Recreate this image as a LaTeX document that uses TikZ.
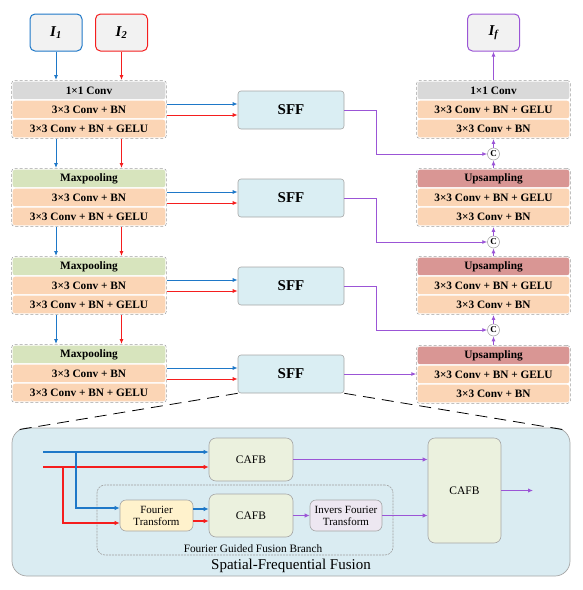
\documentclass[tikz,border=0pt]{standalone}
\usepackage{fontspec}
\setmainfont{Liberation Serif}
\usetikzlibrary{arrows.meta,calc,fit}
\definecolor{cblue}{HTML}{1E78C8}
\definecolor{cred}{HTML}{F51E1E}
\definecolor{cpur}{HTML}{9B55D6}
\definecolor{hgray}{HTML}{D9D9D9}
\definecolor{peach}{HTML}{FBD5B5}
\definecolor{mgreen}{HTML}{D7E4BD}
\definecolor{upred}{HTML}{D99694}
\definecolor{sffblue}{HTML}{DAEEF3}
\definecolor{cafbg}{HTML}{EBF1DE}
\definecolor{ftyel}{HTML}{FFF2CC}
\definecolor{iftl}{HTML}{EDE7F1}
\definecolor{inbg}{HTML}{F2F2F2}
\definecolor{panelbg}{HTML}{DAECF2}
\begin{document}
\begin{tikzpicture}[x=1pt,y=-1pt,
  rowbox/.style={minimum width=154pt, minimum height=19pt, inner sep=0pt, draw=white, line width=1.4pt, rounded corners=2.5pt, font=\bfseries\fontsize{11.3}{12}\selectfont},
  frame/.style={draw=gray!75, densely dashed, line width=0.5pt, rounded corners=4pt, inner sep=0pt},
  inbox/.style={minimum width=52pt, minimum height=37pt, rounded corners=5pt, fill=inbg, line width=1pt, font=\bfseries\itshape\fontsize{15}{16}\selectfont},
  sffbox/.style={minimum width=106pt, minimum height=38pt, rounded corners=3pt, fill=sffblue, draw=gray!70, line width=0.6pt, font=\bfseries\fontsize{15}{16}\selectfont},
  cnode/.style={circle, draw=gray!80, fill=white, minimum size=12pt, inner sep=0pt, line width=0.5pt, font=\bfseries\fontsize{9}{9}\selectfont},
  ar/.style={-{Latex[length=5pt,width=4pt]}, line width=0.9pt},
  arb/.style={ar, draw=cblue},
  arr/.style={ar, draw=cred},
  arp/.style={ar, draw=cpur},
  car/.style={-{Latex[length=5pt,width=4.5pt]}, line width=1.2pt},
  cafb/.style={fill=cafbg, draw=gray!70, line width=0.6pt, rounded corners=7pt, font=\fontsize{11.5}{12}\selectfont},
  smallbox/.style={minimum width=73pt, minimum height=31pt, inner sep=1pt, align=center, draw=gray!70, line width=0.6pt, rounded corners=6pt, font=\fontsize{11}{12}\selectfont},
  bigdash/.style={draw=black, line width=0.8pt, dash pattern=on 12pt off 7pt}
]
\useasboundingbox (0,0) rectangle (582,590);

% inputs
\node[inbox, draw=cblue] (I1) at (56,32.5) {I\textsubscript{1}};
\node[inbox, draw=cred] (I2) at (121.5,32.5) {I\textsubscript{2}};
\node[inbox, draw=cpur] (If) at (493.5,32.5) {I\textsubscript{\textit{f}}};

% left encoder blocks
\foreach \i/\T/\h/\hc in {1/81/{1×1 Conv}/hgray, 2/169/Maxpooling/mgreen, 3/257/Maxpooling/mgreen, 4/345/Maxpooling/mgreen}{
  \node[rowbox, fill=\hc] (L\i r1) at (89,\T+9.5) {\h};
  \node[rowbox, fill=peach] (L\i r2) at (89,\T+28.5) {3×3 Conv + BN};
  \node[rowbox, fill=peach] (L\i r3) at (89,\T+47.5) {3×3 Conv + BN + GELU};
  \node[frame, fit=(L\i r1)(L\i r3)] (L\i) {};
  \node[sffbox] (S\i) at (291,\T+29) {SFF};
  \coordinate (b\i) at ($(L\i r2.east)+(0,-5.5)$);
  \coordinate (r\i) at ($(L\i r2.east)+(0,5.5)$);
  \draw[arb] (b\i) -- (b\i -| S\i.west);
  \draw[arr] (r\i) -- (r\i -| S\i.west);
}

% right decoder blocks
\node[rowbox, fill=hgray, minimum width=153pt] (R1r1) at (493.5,90.5) {1×1 Conv};
\node[rowbox, fill=peach, minimum width=153pt] (R1r2) at (493.5,109.5) {3×3 Conv + BN + GELU};
\node[rowbox, fill=peach, minimum width=153pt] (R1r3) at (493.5,128.5) {3×3 Conv + BN};
\node[frame, fit=(R1r1)(R1r3)] (R1) {};
\foreach \i/\T in {2/169, 3/257, 4/346}{
  \node[rowbox, fill=upred, minimum width=153pt] (R\i r1) at (493.5,\T+9.5) {Upsampling};
  \node[rowbox, fill=peach, minimum width=153pt] (R\i r2) at (493.5,\T+28.5) {3×3 Conv + BN + GELU};
  \node[rowbox, fill=peach, minimum width=153pt] (R\i r3) at (493.5,\T+47.5) {3×3 Conv + BN};
  \node[frame, fit=(R\i r1)(R\i r3)] (R\i) {};
}
\node[cnode] (C1) at (493.5,154) {C};
\node[cnode] (C2) at (493.5,242) {C};
\node[cnode] (C3) at (493.5,330) {C};

% vertical arrows left
\draw[arb] (I1.south) -- (L1.north -| I1);
\draw[arr] (I2.south) -- (L1.north -| I2);
\foreach \a/\b in {1/2, 2/3, 3/4}{
  \draw[arb] (L\a.south -| I1) -- (L\b.north -| I1);
  \draw[arr] (L\a.south -| I2) -- (L\b.north -| I2);
}

% purple connections
\draw[arp] (S1.east) -- ++(32,0) |- (C1.west);
\draw[arp] (S2.east) -- ++(32,0) |- (C2.west);
\draw[arp] (S3.east) -- ++(32,0) |- (C3.west);
\draw[arp] (S4.east) -- (S4.east -| R4r2.west);
\draw[arp] (R4.north) -- (C3.south);
\draw[arp] (C3.north) -- (R3.south);
\draw[arp] (R3.north) -- (C2.south);
\draw[arp] (C2.north) -- (R2.south);
\draw[arp] (R2.north) -- (C1.south);
\draw[arp] (C1.north) -- (R1.south);
\draw[arp] (R1.north) -- (If.south);

% bottom panel
\node[draw=gray!70, fill=panelbg, line width=0.7pt, rounded corners=15pt, minimum width=558pt, minimum height=148pt] (P) at (291,502) {};
\node[font=\fontsize{15}{16}\selectfont] (Ptitle) at (291,566) {Spatial-Frequential Fusion};
\draw[bigdash] (S4.south west) -- ($(P.north west)+(4,2.5)$);
\draw[bigdash] (S4.south east) -- ($(P.north east)+(-4,2.5)$);

\node[draw=gray!75, dash pattern=on 2pt off 1pt, line width=0.6pt, rounded corners=8pt, minimum width=296pt, minimum height=70pt] (FG) at (245,520) {};
\node[font=\fontsize{11.3}{12}\selectfont] (FGt) at (253,548.5) {Fourier Guided Fusion Branch};

\node[cafb, minimum width=84pt, minimum height=43pt] (CA1) at (251,459.5) {CAFB};
\node[cafb, minimum width=84pt, minimum height=43pt] (CA2) at (251,515.5) {CAFB};
\node[cafb, minimum width=73pt, minimum height=105pt] (CA3) at (464.5,490.5) {CAFB};
\node[smallbox, fill=ftyel] (FT) at (156.5,515.5) {Fourier\\Transform};
\node[smallbox, fill=iftl, minimum width=72pt] (IFT) at (346,515.5) {Invers Fourier\\Transform};

\coordinate (inb) at (43,452);
\coordinate (inr) at (43,467);
\coordinate (out) at (533,490.5);
\draw[car, draw=cblue] (inb) -- (inb -| CA1.west);
\draw[car, draw=cred] (inr) -- (inr -| CA1.west);
\draw[car, draw=cblue] (76,452) |- ($(FT.west)+(0,-7.5)$);
\draw[car, draw=cred] (63,467) |- ($(FT.west)+(0,7.5)$);
\draw[car, draw=cblue] ($(FT.east)+(0,-6.5)$) -- ($(CA2.west)+(0,-6.5)$);
\draw[car, draw=cred] ($(FT.east)+(0,5.5)$) -- ($(CA2.west)+(0,5.5)$);
\draw[car, draw=cpur] (CA2.east) -- (IFT.west);
\draw[car, draw=cpur] (IFT.east) -- (IFT.east -| CA3.west);
\draw[car, draw=cpur] (CA1.east) -- (CA1.east -| CA3.west);
\draw[car, draw=cpur] (CA3.east) -- (out);
\end{tikzpicture}
\end{document}
